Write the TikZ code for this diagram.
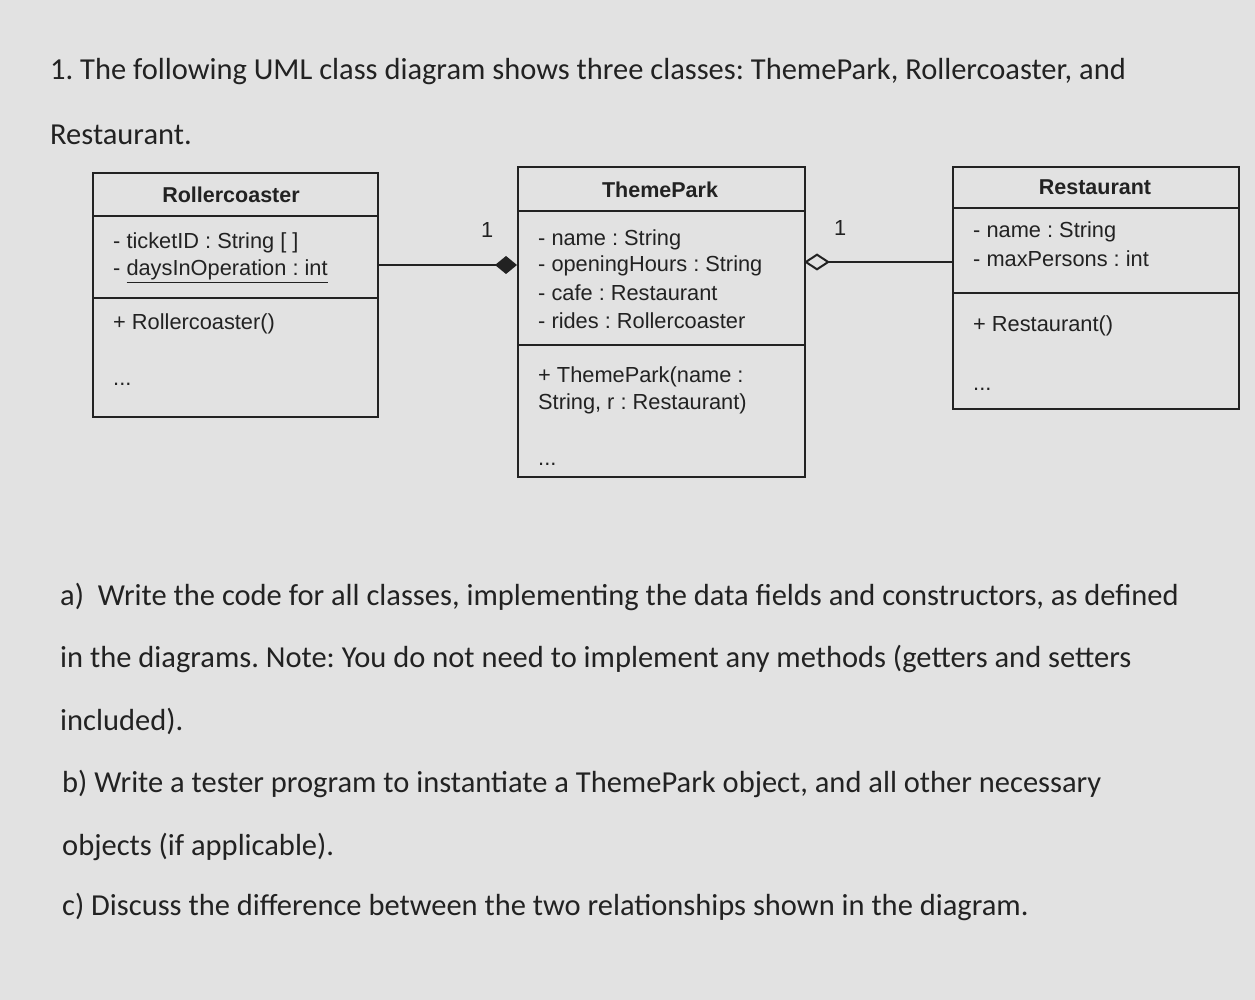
\documentclass[tikz,border=0pt]{standalone}
\usepackage{fontspec}
\setmainfont{Carlito}
\newfontfamily\uml{Liberation Sans}
\usetikzlibrary{arrows.meta}
\frenchspacing
\definecolor{bg}{HTML}{E2E2E2}
\definecolor{ink}{HTML}{222222}
\tikzset{
  box/.style={draw=ink, line width=2pt, anchor=north west, inner sep=0pt},
  div/.style={draw=ink, line width=2pt},
  q/.style={anchor=base west, inner sep=0pt, font=\fontsize{30.5}{33}\selectfont, text=ink},
  ut/.style={anchor=base west, inner sep=0pt, font=\uml\fontsize{21.8}{25}\selectfont, text=ink, align=left},
  uh/.style={anchor=base, inner sep=0pt, font=\uml\bfseries\fontsize{21.5}{24}\selectfont, text=ink},
  conn/.style={draw=ink, line width=2pt}
}
\begin{document}
\begin{tikzpicture}[x=1pt,y=-1pt]
\fill[bg] (0,0) rectangle (1255,1000);
\useasboundingbox (0,0) rectangle (1255,1000);
\node[q] (q1) at (50,80) {1. The following UML class diagram shows three classes: ThemePark, Rollercoaster, and};
\node[q] (q2) at (50,145) {Restaurant.};
% Rollercoaster
\node[box, minimum width=285pt, minimum height=244pt] (rc) at (92,172) {};
\draw[div] (92,216) -- (377,216);
\draw[div] (92,298) -- (377,298);
\node[uh] (rct) at (231,203) {Rollercoaster};
\node[ut] (rca1) at (113,249) {- ticketID : String [ ]};
\node[ut] (rca2) at (113,276) {- \underline{daysInOperation : int}};
\node[ut] (rcm) at (113,329) {+ Rollercoaster()};
\node[ut] (rcd) at (113,385) {...};
% ThemePark
\node[box, minimum width=287pt, minimum height=310pt] (tp) at (517,166) {};
\draw[div] (517,211) -- (804,211);
\draw[div] (517,345) -- (804,345);
\node[uh] (tpt) at (660,198) {ThemePark};
\node[ut] (tpa1) at (538,246) {- name : String};
\node[ut] (tpa2) at (538,272) {- openingHours : String};
\node[ut] (tpa3) at (538,301) {- cafe : Restaurant};
\node[ut] (tpa4) at (538,328) {- rides : Rollercoaster};
\node[ut] (tpm1) at (538,382) {+ ThemePark(name :};
\node[ut] (tpm2) at (538,409) {String, r : Restaurant)};
\node[ut] (tpd) at (538,465) {...};
% Restaurant
\node[box, minimum width=286pt, minimum height=242pt] (rs) at (952,166) {};
\draw[div] (952,208) -- (1238,208);
\draw[div] (952,293) -- (1238,293);
\node[uh] (rst) at (1095,195) {Restaurant};
\node[ut] (rsa1) at (973,238) {- name : String};
\node[ut] (rsa2) at (973,266) {- maxPersons : int};
\node[ut] (rsm) at (973,331) {+ Restaurant()};
\node[ut] (rsd) at (973,390) {...};
% connectors
\coordinate (c1) at (377,265);
\coordinate (c2) at (517,265);
\coordinate (c3) at (804,262);
\coordinate (c4) at (952,262);
\draw[conn, -{Diamond[fill=ink, length=22pt, width=18pt]}] (c1) -- (c2);
\draw[conn, {Diamond[open, fill=bg, length=26pt, width=17pt]}-] (c3) -- (c4);
\node[ut] (m1) at (481,238) {1};
\node[ut] (m2) at (834,236) {1};
% questions
\node[q] (qa1) at (60,605) {a)\ \ Write the code for all classes, implementing the data fields and constructors, as defined};
\node[q] (qa2) at (60,667) {in the diagrams. Note: You do not need to implement any methods (getters and setters};
\node[q] (qa3) at (60,730) {included).};
\node[q] (qb1) at (62,792) {b) Write a tester program to instantiate a ThemePark object, and all other necessary};
\node[q] (qb2) at (62,855) {objects (if applicable).};
\node[q] (qc) at (62,915) {c) Discuss the difference between the two relationships shown in the diagram.};
\end{tikzpicture}
\end{document}
